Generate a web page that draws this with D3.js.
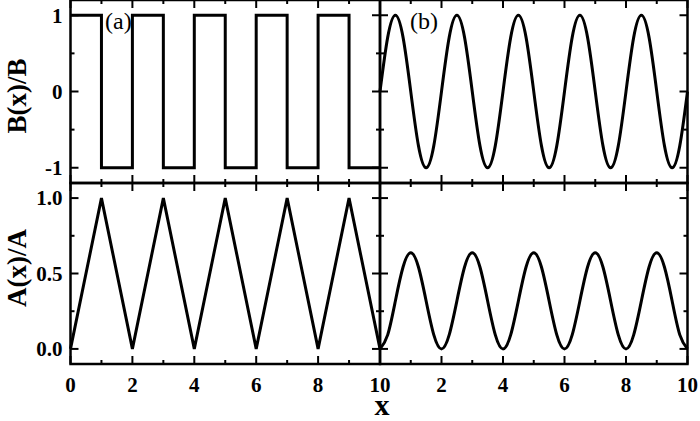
<!DOCTYPE html>
<html><head><meta charset="utf-8">
<script src="https://cdn.jsdelivr.net/npm/d3@7"></script>
<style>
body{margin:0;background:#fff;}
svg text{font-family:"Liberation Serif","Times New Roman",serif;font-weight:bold;fill:#000;}
</style></head>
<body><svg id="c" width="700" height="421"></svg>
<script>
// ---- data ----
const xMajorTicks = [0, 2, 4, 6, 8, 10];
const xMinorTicks = [1, 3, 5, 7, 9];
const bMajorTicks = [-1, 0, 1];
const bMinorTicks = [-0.5, 0.5];
const aMajorTicks = [0, 0.5, 1];
const aMinorTicks = [0.25, 0.75];

// (a) square wave B(x)/B
const squareX = [0, 1, 1, 2, 2, 3, 3, 4, 4, 5, 5, 6, 6, 7, 7, 8, 8, 9, 9, 10];
const squareB = [1, 1, -1, -1, 1, 1, -1, -1, 1, 1, -1, -1, 1, 1, -1, -1, 1, 1, -1, -1];
// (a) triangle wave A(x)/A
const triX = [0, 1, 2, 3, 4, 5, 6, 7, 8, 9, 10];
const triA = [0, 1, 0, 1, 0, 1, 0, 1, 0, 1, 0];
// (b) smooth curves, sampled every 0.25
const smoothX = [0,0.25,0.5,0.75,1,1.25,1.5,1.75,2,2.25,2.5,2.75,3,3.25,3.5,3.75,4,4.25,4.5,4.75,5,
  5.25,5.5,5.75,6,6.25,6.5,6.75,7,7.25,7.5,7.75,8,8.25,8.5,8.75,9,9.25,9.5,9.75,10];
const sineB = [0,0.71,1,0.71,0,-0.71,-1,-0.71,0,0.71,1,0.71,0,-0.71,-1,-0.71,0,0.71,1,0.71,0,
  -0.71,-1,-0.71,0,0.71,1,0.71,0,-0.71,-1,-0.71,0,0.71,1,0.71,0,-0.71,-1,-0.71,0];
const cosA = [0,0.093,0.318,0.543,0.637,0.543,0.318,0.093,0,0.093,0.318,0.543,0.637,0.543,0.318,0.093,0,
  0.093,0.318,0.543,0.637,0.543,0.318,0.093,0,0.093,0.318,0.543,0.637,0.543,0.318,0.093,0,
  0.093,0.318,0.543,0.637,0.543,0.318,0.093,0];

// ---- layout ----
const svg = d3.select("#c");
const L = 70.5, M = 380, R = 687.5, T = 0, H = 183, B = 364;
const xLeft = d3.scaleLinear().domain([0, 10]).range([L, M]);
const xRight = d3.scaleLinear().domain([0, 10]).range([M, R]);
const yTop = d3.scaleLinear().domain([-1.2, 1.2]).range([H, T]);
const yBot = d3.scaleLinear().domain([-0.1, 1.1]).range([B, H]);

const MAJ = 8, MIN = 4;

function ticks(x, y, yMaj, yMin, opts) {
  const g = svg.append("g");
  const x0 = x.range()[0], x1 = x.range()[1], y0 = y.range()[1], y1 = y.range()[0];
  function hTicks(vals, len, yy, dir) {
    g.selectAll(null).data(vals).enter().append("line")
      .attr("x1", d => x(d)).attr("x2", d => x(d))
      .attr("y1", yy).attr("y2", yy + dir * len)
      .attr("stroke", "#000").attr("stroke-width", 2);
  }
  function vTicks(vals, len, xx, dir) {
    g.selectAll(null).data(vals).enter().append("line")
      .attr("y1", d => y(d)).attr("y2", d => y(d))
      .attr("x1", xx).attr("x2", xx + dir * len)
      .attr("stroke", "#000").attr("stroke-width", 2);
  }
  hTicks(xMajorTicks, MAJ, y1, -1); hTicks(xMinorTicks, MIN, y1, -1);
  hTicks(xMajorTicks, MAJ, y0, 1); hTicks(xMinorTicks, MIN, y0, 1);
  vTicks(yMaj, MAJ, x0, 1); vTicks(yMin, MIN, x0, 1);
  vTicks(yMaj, MAJ, x1, -1); vTicks(yMin, MIN, x1, -1);
  g.append("rect").attr("x", x0).attr("y", y0).attr("width", x1 - x0).attr("height", y1 - y0)
    .attr("fill", "none").attr("stroke", "#000").attr("stroke-width", 2.5);
  if (opts.yLabels) {
    g.selectAll(null).data(yMaj).enter().append("text")
      .attr("x", x0 - 8).attr("y", d => y(d)).attr("dy", "0.35em")
      .attr("text-anchor", "end").attr("font-size", 21)
      .text(opts.yFmt);
  }
  if (opts.xLabels) {
    g.selectAll(null).data(opts.xLabels).enter().append("text")
      .attr("x", d => x(d)).attr("y", y1 + 28)
      .attr("text-anchor", "middle").attr("font-size", 21)
      .text(d => d);
  }
}

function curve(x, y, xs, ys, c) {
  const line = d3.line().x((d, i) => x(xs[i])).y(d => y(d)).curve(c || d3.curveLinear);
  svg.append("path").attr("d", line(ys)).attr("fill", "none")
    .attr("stroke", "#000").attr("stroke-width", 3).attr("stroke-linejoin", "miter");
}

curve(xLeft, yTop, squareX, squareB);
curve(xLeft, yBot, triX, triA);
curve(xRight, yTop, smoothX, sineB, d3.curveNatural);
curve(xRight, yBot, smoothX, cosA, d3.curveNatural);

const fmtB = d => d < 0 ? "-" + Math.abs(d) : String(d);
ticks(xLeft, yTop, bMajorTicks, bMinorTicks, {yLabels: true, yFmt: fmtB});
ticks(xLeft, yBot, aMajorTicks, aMinorTicks, {yLabels: true, yFmt: d3.format(".1f"), xLabels: xMajorTicks});
ticks(xRight, yTop, bMajorTicks, bMinorTicks, {});
ticks(xRight, yBot, aMajorTicks, aMinorTicks, {xLabels: [2, 4, 6, 8, 10]});

svg.append("text").attr("x", 105).attr("y", 29).attr("font-size", 24)
  .style("font-weight", "normal").text("(a)");
svg.append("text").attr("x", 410).attr("y", 29).attr("font-size", 24)
  .style("font-weight", "normal").text("(b)");

svg.append("text").attr("transform", "translate(26,96) rotate(-90)")
  .attr("text-anchor", "middle").attr("font-size", 27).text("B(x)/B");
svg.append("text").attr("transform", "translate(26,268) rotate(-90)")
  .attr("text-anchor", "middle").attr("font-size", 27).text("A(x)/A");
svg.append("text").attr("x", 382).attr("y", 415).attr("text-anchor", "middle")
  .attr("font-size", 30).text("x");
</script></body></html>
